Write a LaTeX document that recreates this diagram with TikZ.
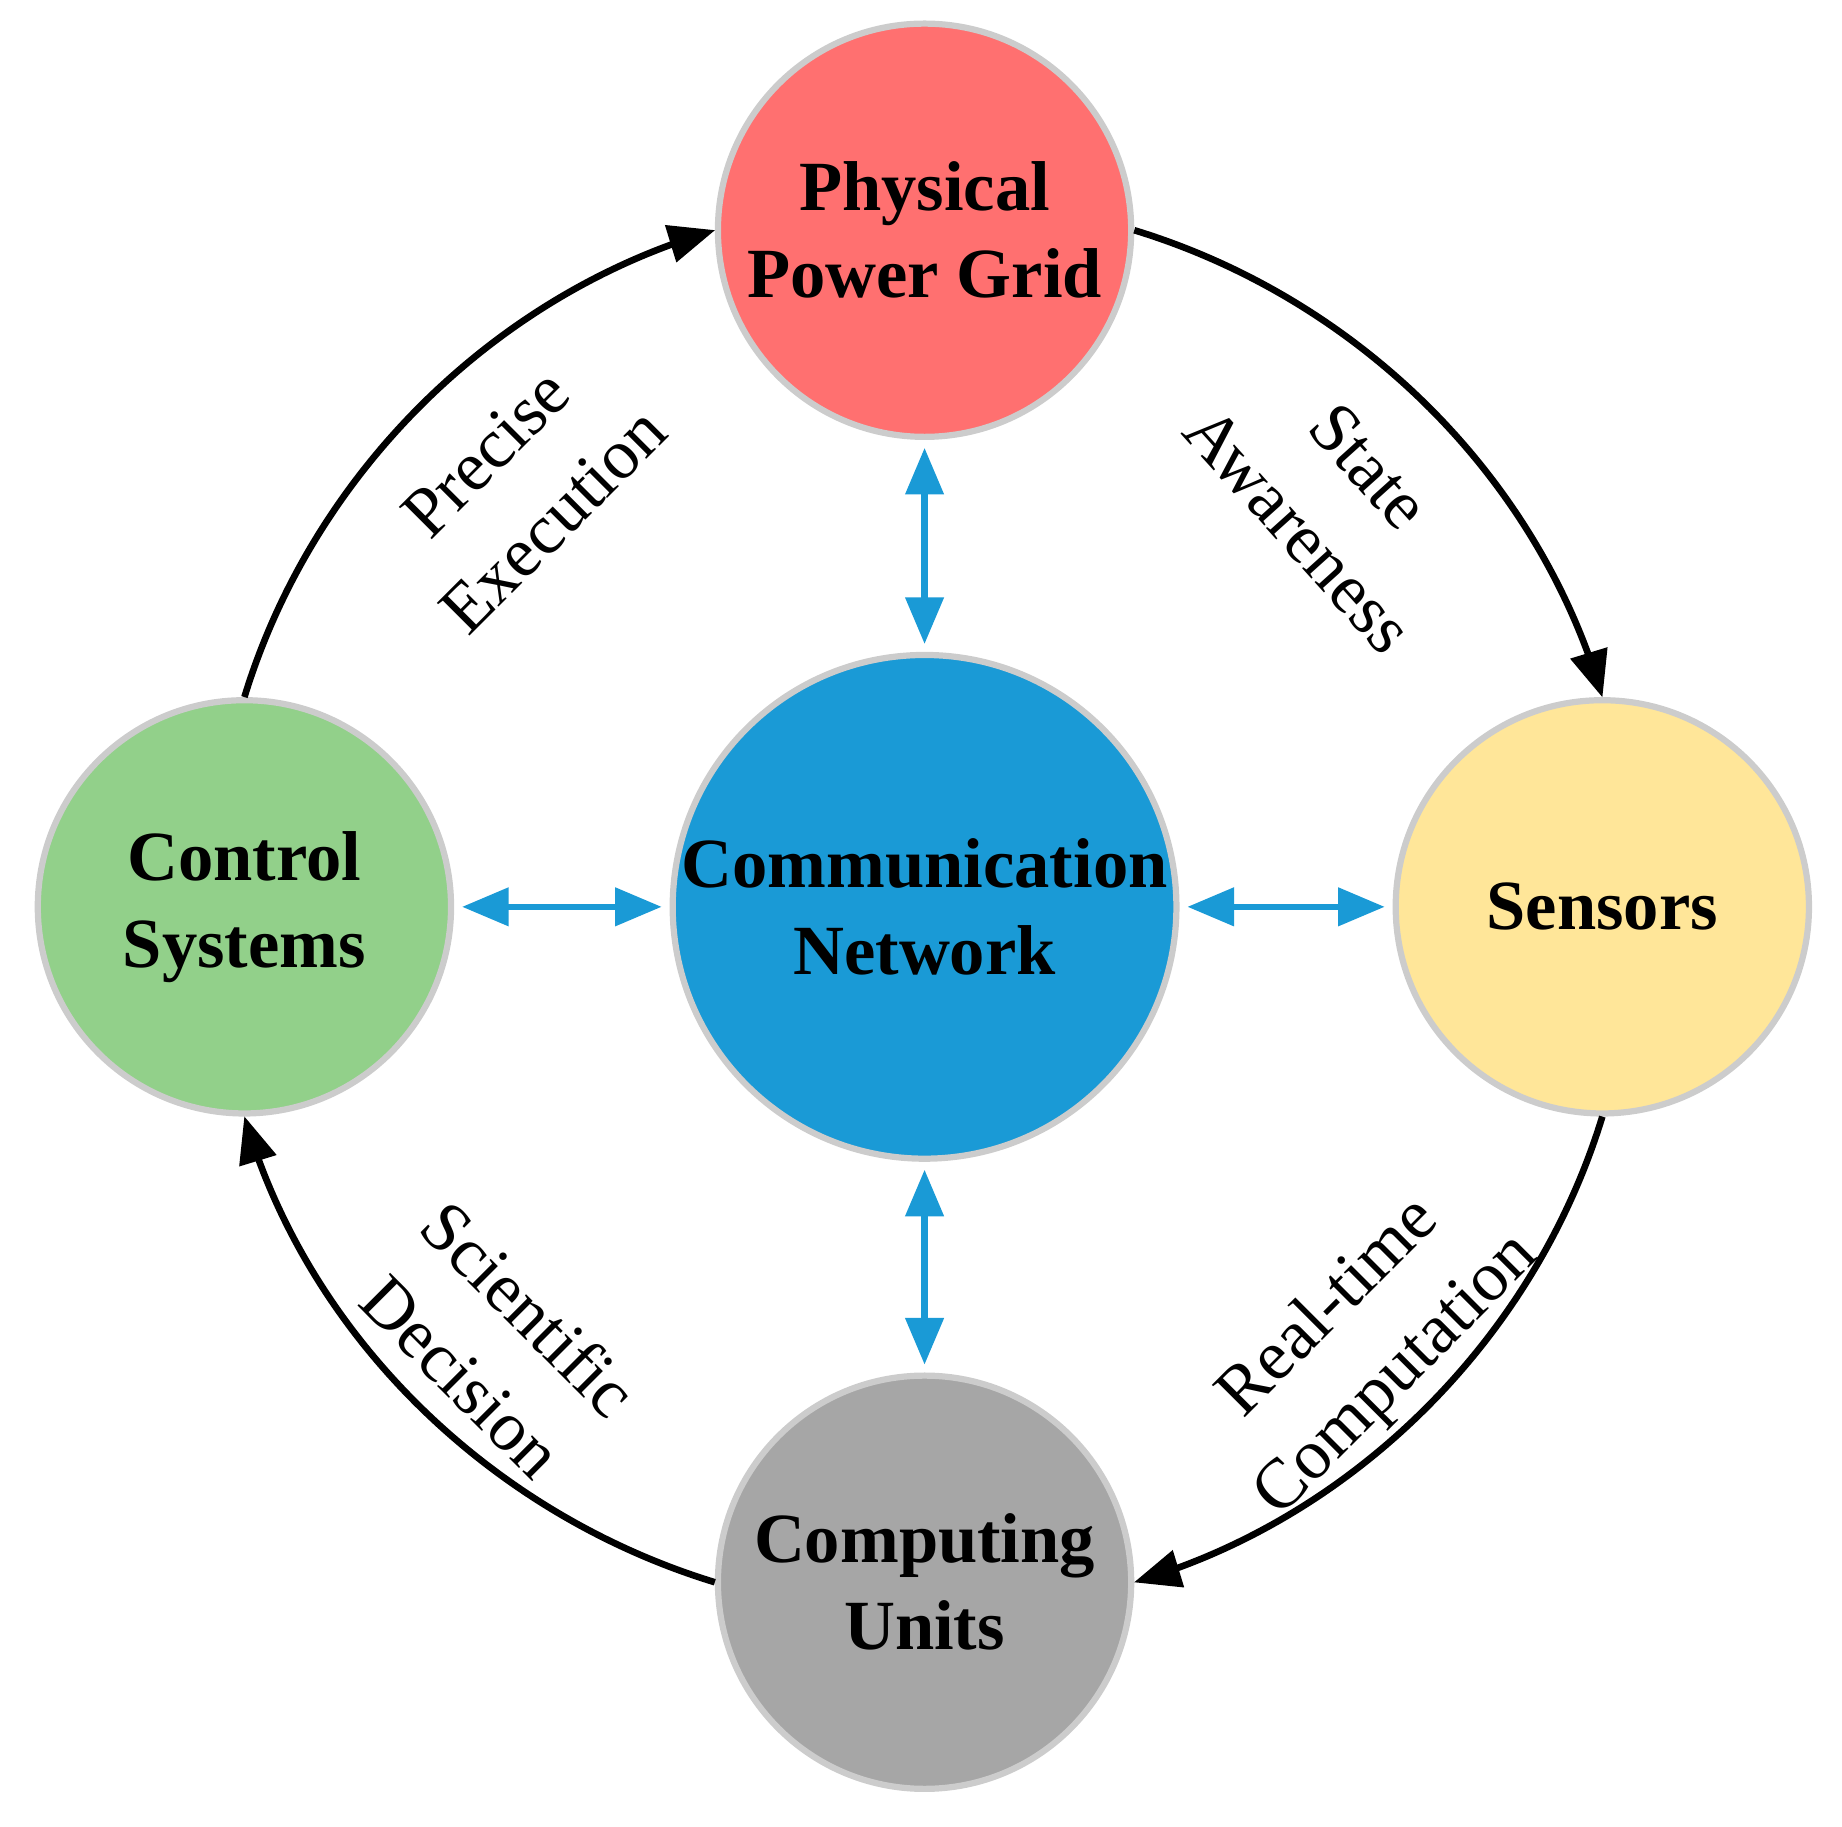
\documentclass[tikz,border=0pt]{standalone}
\usepackage{fontspec}
\setmainfont{Liberation Serif}
\usetikzlibrary{arrows}

\definecolor{gridred}{HTML}{FF7070}
\definecolor{ctrlgreen}{HTML}{92D08A}
\definecolor{sensyellow}{HTML}{FFE699}
\definecolor{compgray}{HTML}{A6A6A6}
\definecolor{netblue}{HTML}{1A9AD6}

\begin{document}
\begin{tikzpicture}

\tikzstyle{unit}=[circle,draw=black!20,line width=1.5pt,minimum size=3.5cm,inner sep=0pt,align=center,
  font=\fontsize{17}{21}\selectfont\bfseries]
\tikzstyle{flow}=[-triangle 45,line width=1.6pt,black,looseness=0.9]
\tikzstyle{link}=[triangle 45-triangle 45,line width=1.6pt,netblue]
\tikzstyle{lbl}=[align=center,font=\fontsize{17}{23}\selectfont]

\useasboundingbox (0,0) rectangle (15.6,15.47);

\node[unit,fill=gridred] (grid) at (7.83,13.52) {Physical\\Power Grid};
\node[unit,fill=netblue,minimum size=4.2cm] (net) at (7.83,7.79) {Communication\\Network};
\node[unit,fill=ctrlgreen] (ctrl) at (2.07,7.79) {Control\\Systems};
\node[unit,fill=sensyellow] (sens) at (13.57,7.79) {Sensors};
\node[unit,fill=compgray] (comp) at (7.83,2.07) {Computing\\Units};

\draw[flow] (grid.east) to[out=-17,in=107] (sens.north);
\draw[flow] (sens.south) to[out=-107,in=17] (comp.east);
\draw[flow] (comp.west) to[out=163,in=-73] (ctrl.south);
\draw[flow] (ctrl.north) to[out=73,in=197] (grid.west);

\draw[link,shorten <=2pt,shorten >=2pt] (grid) -- (net);
\draw[link,shorten <=2pt,shorten >=2pt] (comp) -- (net);
\draw[link,shorten <=2pt,shorten >=2pt] (ctrl) -- (net);
\draw[link,shorten <=2pt,shorten >=2pt] (sens) -- (net);

\node[lbl,rotate=-48] (aware) at (11.3,11.25) {State\\Awareness};
\node[lbl,rotate=45] (exec) at (4.4,11.35) {Precise\\Execution};
\node[lbl,rotate=-45] (decis) at (4.2,4.1) {Scientific\\Decision};
\node[lbl,rotate=45] (rtime) at (11.55,4.1) {Real-time\\Computation};

\end{tikzpicture}
\end{document}
